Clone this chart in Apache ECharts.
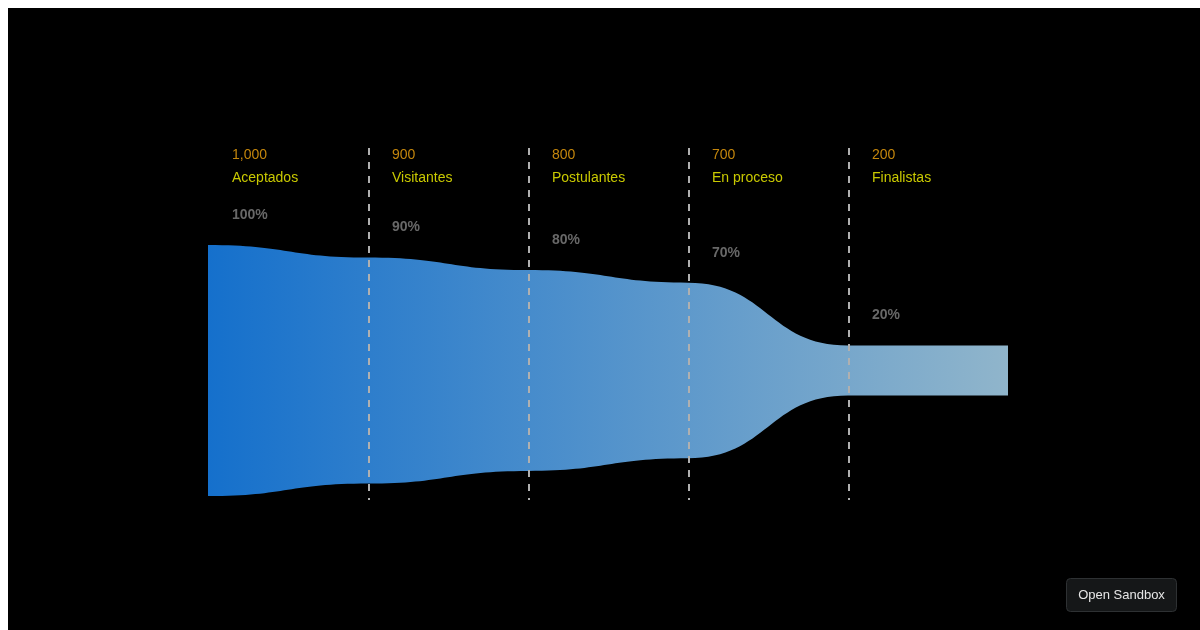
<!DOCTYPE html>
<html>
<head>
<meta charset="utf-8">
<script src="https://cdn.jsdelivr.net/npm/echarts@6/dist/echarts.min.js"></script>
<style>
  html, body { margin: 0; padding: 0; background: #ffffff; width: 1200px; height: 630px; overflow: hidden; }
  #chart { position: absolute; left: 8px; top: 8px; width: 1192px; height: 622px; background: #000; }
</style>
</head>
<body>
<div id="chart"></div>
<script>
const categories = ['Aceptados', 'Visitantes', 'Postulantes', 'En proceso', 'Finalistas'];
const values = [1000, 900, 800, 700, 200];
const percents = ['100%', '90%', '80%', '70%', '20%'];
const valueLabels = ['1,000', '900', '800', '700', '200'];

const FONT = '"Liberation Sans", Arial, Helvetica, sans-serif';
const chart = echarts.init(document.getElementById('chart'), null, { renderer: 'canvas' });

function funnelShape(params, api) {
  const n = values.length;
  const top = [], bot = [];
  for (let i = 0; i <= n; i++) {
    const v = values[Math.min(i, n - 1)];
    top.push(api.coord([i, v / 2]));
    bot.push(api.coord([i, -v / 2]));
  }
  let d = 'M' + top[0][0] + ' ' + top[0][1];
  for (let i = 0; i < n; i++) {
    const a = top[i], b = top[i + 1], m = (a[0] + b[0]) / 2;
    d += ' C' + m + ' ' + a[1] + ' ' + m + ' ' + b[1] + ' ' + b[0] + ' ' + b[1];
  }
  d += ' L' + bot[n][0] + ' ' + bot[n][1];
  for (let i = n; i > 0; i--) {
    const a = bot[i], b = bot[i - 1], m = (a[0] + b[0]) / 2;
    d += ' C' + m + ' ' + a[1] + ' ' + m + ' ' + b[1] + ' ' + b[0] + ' ' + b[1];
  }
  d += ' Z';
  return {
    type: 'path',
    shape: { pathData: d },
    style: {
      fill: new echarts.graphic.LinearGradient(0, 0, 1, 0, [
        { offset: 0, color: '#1570cc' },
        { offset: 1, color: '#90b5cb' }
      ])
    }
  };
}

function stageLabels(params, api) {
  const i = params.dataIndex;
  const v = values[i];
  const p = api.coord([i, v / 2]);
  const children = [];
  if (i > 0) {
    children.push({
      type: 'line',
      shape: { x1: p[0] + 1, y1: 140, x2: p[0] + 1, y2: 492 },
      style: { stroke: '#b0b0b0', lineWidth: 2, lineDash: [7, 7] },
      z2: 10
    });
  }
  const tx = p[0] + 24;
  children.push({
    type: 'text', x: tx, y: 147,
    style: { text: valueLabels[i], fill: '#c4860c', font: '14px ' + FONT, textVerticalAlign: 'middle' }
  });
  children.push({
    type: 'text', x: tx, y: 170,
    style: { text: categories[i], fill: '#c9c900', font: '14px ' + FONT, textVerticalAlign: 'middle' }
  });
  children.push({
    type: 'text', x: tx, y: p[1] - 30,
    style: { text: percents[i], fill: '#686868', font: 'bold 14px ' + FONT, textVerticalAlign: 'middle' }
  });
  return { type: 'group', children: children };
}

chart.setOption({
  backgroundColor: '#000000',
  animation: false,
  grid: { left: 200, width: 800, top: 111.5, height: 502 },
  xAxis: { type: 'value', min: 0, max: 5, show: false },
  yAxis: { type: 'value', min: -1000, max: 1000, show: false },
  series: [
    { type: 'custom', renderItem: funnelShape, data: [0], silent: true, z: 1 },
    { type: 'custom', renderItem: stageLabels, data: values.map((v, i) => i), silent: true, z: 2 }
  ],
  graphic: [
    {
      type: 'group', left: 1058, top: 570,
      children: [
        { type: 'rect', shape: { x: 0, y: 0, width: 110, height: 33, r: 4 },
          style: { fill: '#151718', stroke: '#2e3133', lineWidth: 1 } },
        { type: 'text', x: 55, y: 16.5,
          style: { text: 'Open Sandbox', fill: '#e6e6e6', font: '13px ' + FONT, textAlign: 'center', textVerticalAlign: 'middle' } }
      ]
    }
  ]
});
</script>
</body>
</html>
